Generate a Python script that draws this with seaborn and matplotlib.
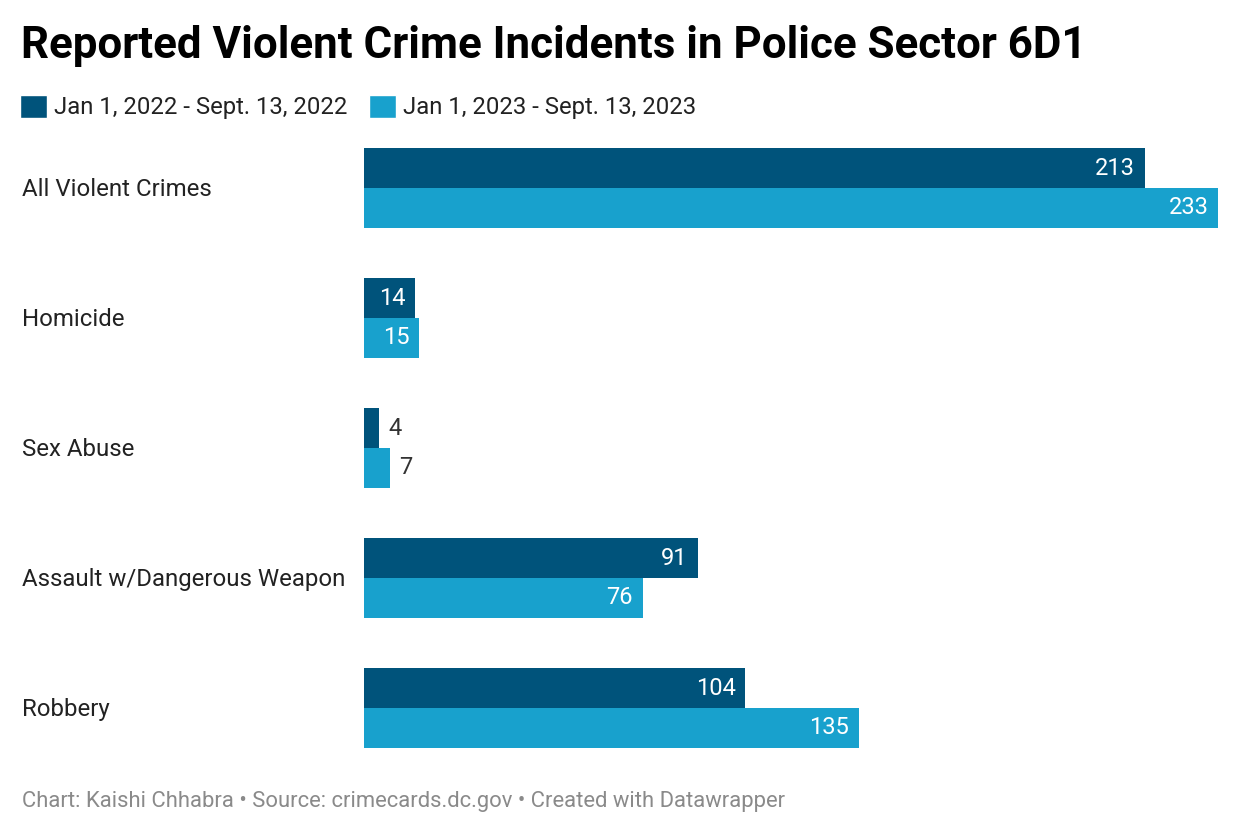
import numpy as np
import pandas as pd
import seaborn as sns
import matplotlib.pyplot as plt
from matplotlib.patches import Patch
from matplotlib.transforms import blended_transform_factory

crimes = ["All Violent Crimes", "Homicide", "Sex Abuse", "Assault w/Dangerous Weapon", "Robbery"]
counts_2022 = [213, 14, 4, 91, 104]
counts_2023 = [233, 15, 7, 76, 135]
periods = ["Jan 1, 2022 - Sept. 13, 2022", "Jan 1, 2023 - Sept. 13, 2023"]
colors = ["#00537b", "#18a1cd"]

df = pd.DataFrame({
    "crime": crimes * 2,
    "count": counts_2022 + counts_2023,
    "period": [periods[0]] * len(crimes) + [periods[1]] * len(crimes),
})

sns.set_style("white")
plt.rcParams["font.family"] = ["Roboto", "DejaVu Sans"]

W, H = 1240, 836
fig = plt.figure(figsize=(W / 100, H / 100), dpi=100)
ax = fig.add_axes([364 / W, 1 - 773 / H, (1218 - 364) / W, 650 / H])

sns.barplot(data=df, y="crime", x="count", hue="period", orient="h",
            palette=colors, width=0.615, saturation=1, linewidth=0, ax=ax, legend=False)
ax.set_xlim(0, 233)
ax.set_ylim(4.5, -0.5)
ax.set_xlabel("")
ax.set_ylabel("")
ax.set_xticks([])
ax.set_yticks([])
sns.despine(ax=ax, left=True, bottom=True)

# value labels: inside for wide bars, outside for tiny ones
for cont in ax.containers:
    for bar in cont:
        v = bar.get_width()
        yc = bar.get_y() + bar.get_height() / 2
        if v >= 10:
            ax.annotate(f"{int(v)}", (v, yc), xytext=(-7, 0), textcoords="offset points",
                        ha="right", va="center", color="white", fontsize=17)
        else:
            ax.annotate(f"{int(v)}", (v, yc), xytext=(7, 0), textcoords="offset points",
                        ha="left", va="center", color="#333333", fontsize=17)

# category labels on the left (baseline a bit below the group centre)
tr = blended_transform_factory(fig.transFigure, ax.transData)
for i, c in enumerate(crimes):
    ax.text(22 / W, i + 0.062, c, transform=tr, ha="left", va="baseline",
            fontsize=17.3, color="#222222")

fig.text(21 / W, 1 - 46 / H, "Reported Violent Crime Incidents in Police Sector 6D1",
         fontsize=31.6, fontweight="bold", ha="left", va="center", color="#000000")

handles = [Patch(facecolor=colors[0]), Patch(facecolor=colors[1])]
fig.legend(handles, periods, loc="center left", bbox_to_anchor=(20 / W, 1 - 107 / H),
           ncol=2, frameon=False, fontsize=17.2, handlelength=1.13, handleheight=1.13,
           handletextpad=0.3, columnspacing=0.9, borderaxespad=0, borderpad=0,
           labelcolor="#222222")

fig.text(22 / W, 1 - 801 / H,
         "Chart: Kaishi Chhabra \u2022 Source: crimecards.dc.gov \u2022 Created with Datawrapper",
         fontsize=15.8, ha="left", va="center", color="#8a8a8a")

fig.savefig("out.png", dpi=100)
